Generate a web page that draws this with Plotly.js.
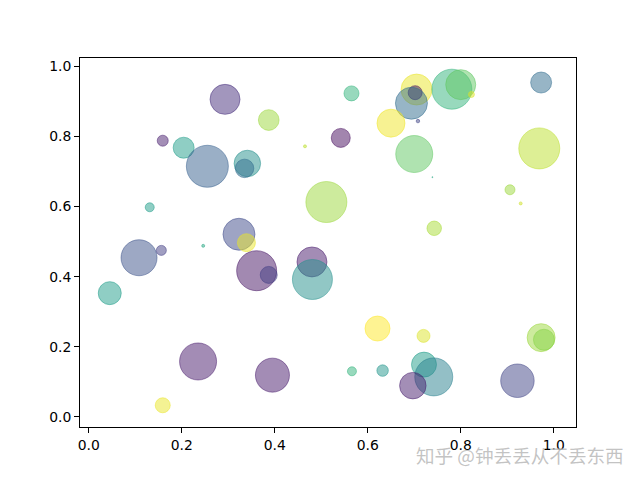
<!DOCTYPE html>
<html>
<head>
<meta charset="utf-8">
<script src="https://cdn.plot.ly/plotly-3.0.0.min.js"></script>
<style>html,body{margin:0;padding:0;background:#fff}</style>
</head>
<body>
<div id="chart" style="width:640px;height:480px"></div>
<script>
const xValues = [.293,.387,.159,.204,.255,.341,.335,.465,.131,.511,.323,.108,.156,.246,.045,.339,.361,.387,.480,.481,.235,.395,.159,.621,.720,.566,.632,.721,.742,.697,.922,.973,.979,.565,.705,.702,.694,.708,.650,.542,.700,.781,.800,.823,.973,.969,.906,.929,.743,.739];
const yValues = [.906,.847,.788,.768,.715,.723,.709,.772,.598,.613,.521,.454,.475,.488,.353,.497,.417,.405,.442,.392,.158,.119,.033,.252,.231,.130,.132,.149,.114,.089,.103,.226,.220,.923,.934,.925,.895,.844,.838,.796,.750,.935,.948,.920,.954,.766,.648,.609,.538,.684];
const diameters = [30,20.7,11,21,42,26.5,18.5,3,9,41,32,36,10,3,23,18,40,17,30,40,37,34,15,25,13,9,11.5,25,38,26.5,33.5,28,21,15,31,14,32,3.5,28,19,37,40,30,6,21,41,10,3,14.5,1];
const colorValues = [.13,.85,.08,.55,.3,.5,.35,.9,.55,.85,.22,.25,.18,.6,.55,.97,.05,.18,.07,.5,.07,.07,.97,1,.95,.65,.52,.55,.43,.08,.2,.85,.82,.65,.97,.05,.35,.2,.98,.03,.75,.65,.75,.95,.35,.9,.85,.93,.87,.6];
const tickValues = [0,0.2,0.4,0.6,0.8,1];
const tickLabels = ["0.0","0.2","0.4","0.6","0.8","1.0"];
const watermark = "知乎 @钟丢丢从不丢东西";
const viridisStops = [[68,1,84],[72,40,120],[62,74,137],[49,104,142],[38,130,142],[31,158,137],[53,183,121],[109,205,89],[180,222,44],[253,231,37]];

function viridis(t, alpha){
  const p = Math.min(Math.max(t,0),1)*(viridisStops.length-1);
  const i = Math.min(Math.floor(p),viridisStops.length-2), f = p-i;
  const c = viridisStops[i].map((v,k)=>Math.round(v+(viridisStops[i+1][k]-v)*f));
  return "rgba("+c[0]+","+c[1]+","+c[2]+","+alpha+")";
}
const pointColors = colorValues.map(t=>viridis(t,0.5));

const axisBase = {
  showgrid:false, zeroline:false, showline:true, mirror:true,
  linecolor:"#000", linewidth:1, ticks:"outside", ticklen:5, tickwidth:1, tickcolor:"#000",
  tickmode:"array", tickvals:tickValues, ticktext:tickLabels,
  tickfont:{family:"DejaVu Sans",size:13.9,color:"#000"}
};
Plotly.newPlot("chart",[{
  type:"scatter", mode:"markers", x:xValues, y:yValues,
  marker:{
    size:diameters, sizemode:"diameter", opacity:1,
    color:pointColors,
    line:{width:1,color:pointColors}
  },
  hoverinfo:"skip", cliponaxis:true
}],{
  width:640,height:480,
  margin:{l:80,r:64,t:58,b:53,pad:0},
  paper_bgcolor:"#fff",plot_bgcolor:"#fff",showlegend:false,
  xaxis:Object.assign({},axisBase,{range:[-0.019,1.048]}),
  yaxis:Object.assign({},axisBase,{range:[-0.029,1.024]}),
  annotations:[{
    text:watermark, xref:"paper", yref:"paper", x:(520-80)/496, y:(427-454.5)/369,
    xanchor:"center", yanchor:"middle", showarrow:false,
    font:{family:"Noto Sans CJK SC",size:18.6,color:"rgba(185,185,185,0.85)"}
  }]
},{staticPlot:true,displayModeBar:false});
</script>
</body>
</html>
